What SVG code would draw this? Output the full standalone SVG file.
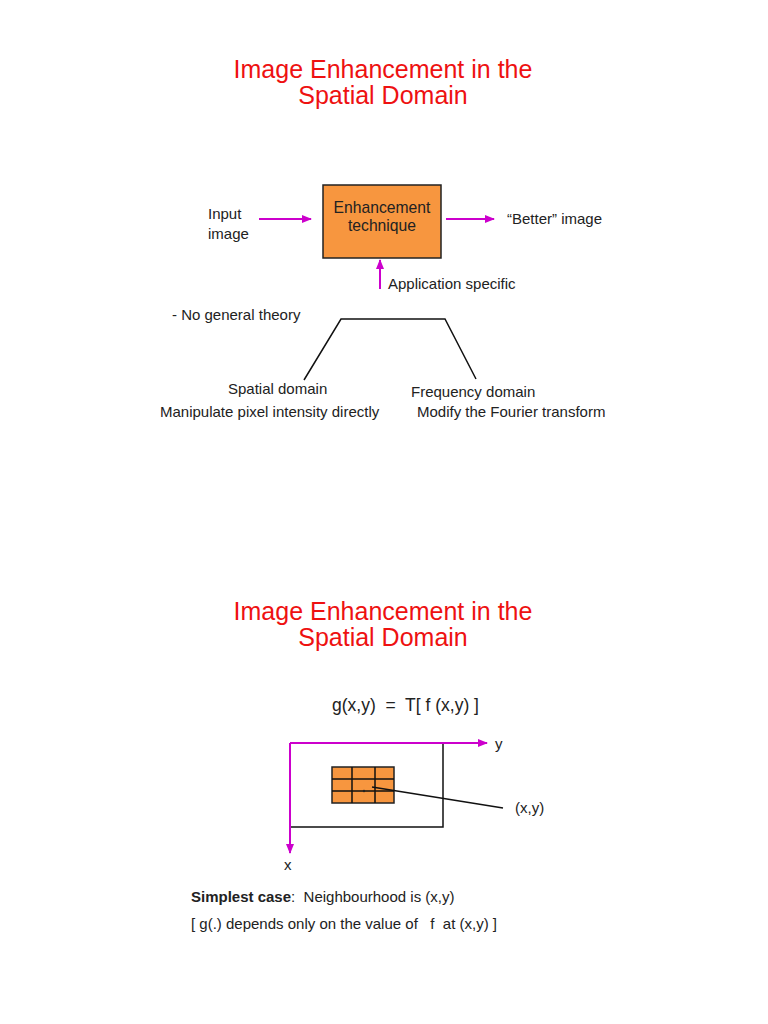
<svg xmlns="http://www.w3.org/2000/svg" width="768" height="1024" viewBox="0 0 768 1024">
<defs>
<marker id="ah" viewBox="0 0 10 10" refX="9" refY="5" markerWidth="10" markerHeight="10" markerUnits="userSpaceOnUse" orient="auto"><path d="M0,1 L10,5 L0,9 z" fill="#CC00CC"/></marker>
<style>
text{font-family:"Liberation Sans",Arial,sans-serif;fill:#222;font-size:15px;white-space:pre}
.title{fill:#EE1111;font-size:25px;text-anchor:middle}
.arr{stroke:#CC00CC;stroke-width:2;fill:none;marker-end:url(#ah)}
.ln{stroke:#111;stroke-width:1.5;fill:none}
.orange{fill:#F7963F;stroke:#222;stroke-width:1.5}
</style>
</defs>
<rect width="768" height="1024" fill="#fff"/>
<g id="title1"><text class="title" x="383" y="78">Image Enhancement in the</text><text class="title" x="383" y="104">Spatial Domain</text></g>
<g id="enh"><rect class="orange" x="323" y="185" width="118" height="73"/><text x="382" y="213" text-anchor="middle" style="font-size:15.7px">Enhancement</text><text x="382" y="231" text-anchor="middle" style="font-size:15.7px">technique</text></g>
<g id="input"><text x="208" y="219">Input</text><text x="208" y="239">image</text></g>
<g id="better"><text x="507" y="224">“Better” image</text></g>
<g id="app"><text x="388" y="289">Application specific</text></g>
<g id="nogen"><text x="172" y="320">- No general theory</text></g>
<g id="spatial"><text x="228" y="394">Spatial domain</text><text x="160" y="417">Manipulate pixel intensity directly</text></g>
<g id="freq"><text x="411" y="397">Frequency domain</text><text x="417" y="417">Modify the Fourier transform</text></g>
<g id="connectors">
<line class="arr" x1="259" y1="219" x2="311" y2="219"/>
<line class="arr" x1="446" y1="219" x2="494" y2="219"/>
<line class="arr" x1="380" y1="289" x2="380" y2="260"/>
<polyline class="ln" points="304,380 341,319 445,319 476,379"/>
</g>
<g id="title2"><text class="title" x="383" y="620">Image Enhancement in the</text><text class="title" x="383" y="646">Spatial Domain</text></g>
<g id="eq"><text x="332" y="711" style="font-size:17.5px">g(x,y)  =  T[ f (x,y) ]</text></g>
<g id="image">
<polyline class="ln" points="290,743 443,743 443,827 290,827"/>
<rect class="orange" x="332" y="767" width="62" height="36" stroke-width="1.2"/>
<path class="ln" stroke-width="1.2" d="M352,767V803M375,767V803M332,779H394M332,791H394"/>
<circle cx="364" cy="791" r="1.2" fill="#222"/>
<line class="ln" x1="372" y1="787" x2="503" y2="808" stroke-width="1.3"/>
<line class="arr" x1="290" y1="743" x2="487" y2="743"/>
<line class="arr" x1="290" y1="743" x2="290" y2="853"/>
<text x="495" y="749">y</text>
<text x="515" y="813">(x,y)</text>
<text x="284" y="870">x</text>
</g>
<g id="simplest"><text x="191" y="902"><tspan font-weight="bold">Simplest case</tspan>:  Neighbourhood is (x,y)</text><text x="191" y="929">[ g(.) depends only on the value of   f  at (x,y) ]</text></g>
</svg>
